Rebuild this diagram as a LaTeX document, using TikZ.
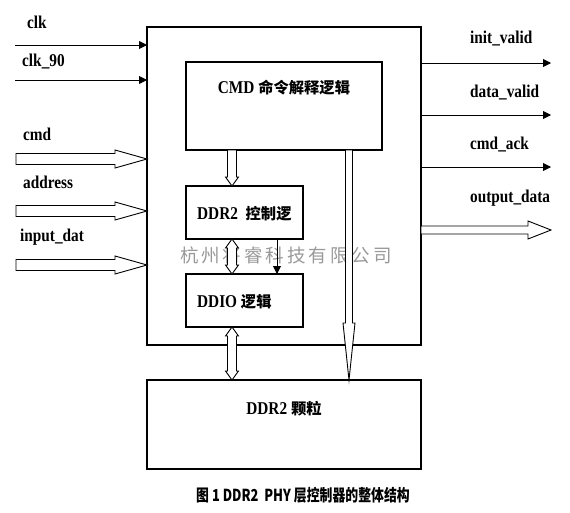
\documentclass[tikz,border=0pt]{standalone}
\usepackage{fontspec}
\setmainfont{Liberation Serif}[FakeStretch=0.85]
\newfontfamily\cjk{Noto Sans CJK SC}
\newfontfamily\capfont{Noto Sans CJK SC}[FakeStretch=0.78]
\usetikzlibrary{arrows.meta,calc}
\newcommand\hollowR[5]{\draw[hol] let \p1=#1, \p2=#2 in
  (\x1,\y1+#3) -- (\x2-#5,\y1+#3) -- (\x2-#5,\y1+#4) -- (\x2,\y1) --
  (\x2-#5,\y1-#4) -- (\x2-#5,\y1-#3) -- (\x1,\y1-#3) -- cycle;}
\newcommand\hollowD[5]{\draw[hol] let \p1=#1, \p2=#2 in
  (\x1-#3,\y1) -- (\x1-#3,\y2+#5) -- (\x1-#4,\y2+#5) -- (\x1,\y2) --
  (\x1+#4,\y2+#5) -- (\x1+#3,\y2+#5) -- (\x1+#3,\y1) -- cycle;}
\newcommand\hollowUD[5]{\draw[hol] let \p1=#1, \p2=#2 in
  (\x1,\y1) -- (\x1+#4,\y1-#5) -- (\x1+#3,\y1-#5) -- (\x1+#3,\y2+#5) --
  (\x1+#4,\y2+#5) -- (\x1,\y2) -- (\x1-#4,\y2+#5) -- (\x1-#3,\y2+#5) --
  (\x1-#3,\y1-#5) -- (\x1-#4,\y1-#5) -- cycle;}
\begin{document}
\begin{tikzpicture}[x=1pt,y=-1pt,
  box/.style={draw,line width=1.3pt,rectangle,inner sep=0pt,outer sep=0pt},
  lbl/.style={font=\fontsize{18}{20}\selectfont\bfseries,anchor=base west,inner sep=0pt},
  btxt/.style={font=\fontsize{18}{20}\selectfont\bfseries,inner sep=0pt},
  arr/.style={line width=0.9pt,-{Triangle[length=8pt,width=8pt]}},
  hol/.style={draw,fill=white,line width=0.9pt,line join=miter}]
\useasboundingbox (0,0) rectangle (570,512);
% boxes
\node[box,minimum width=274pt,minimum height=318pt] (main) at (284,186) {};
\node[box,minimum width=196pt,minimum height=88pt] (cmd) at (284,106) {};
\node[box,minimum width=117pt,minimum height=53pt] (ctrl) at (244.5,212.5) {};
\node[box,minimum width=117pt,minimum height=53pt] (ddio) at (244.5,300.5) {};
\node[box,minimum width=274pt,minimum height=89pt] (chip) at (284,424.5) {};
% box texts
\node[btxt] (cmdt) at (284,88) {CMD {\cjk\fontsize{15.3}{18}\selectfont\bfseries 命令解释逻辑}};
\node[btxt,anchor=west] (ctrlt) at (197,214) {DDR2\ \ {\cjk\fontsize{15.3}{18}\selectfont\bfseries 控制逻}};
\node[btxt,anchor=west] (ddiot) at (197,302) {DDIO {\cjk\fontsize{15.3}{18}\selectfont\bfseries 逻辑}};
\node[btxt] (chipt) at (284,409) {DDR2 {\cjk\fontsize{15.3}{18}\selectfont\bfseries 颗粒}};
% watermark
\node[inner sep=0pt,text=black!40,font=\cjk\fontsize{18.5}{20}\selectfont] (wm) at (286,255)
  {杭\hspace{3pt}州\hspace{3pt}将\hspace{3pt}睿\hspace{3pt}科\hspace{3pt}技\hspace{3pt}有\hspace{3pt}限\hspace{3pt}公\hspace{3pt}司};
% left labels
\node[lbl] (lclk) at (27,28) {clk};
\node[lbl] (lclk90) at (22,66) {clk\_90};
\node[lbl] (lcmd) at (23,140) {cmd};
\node[lbl] (laddr) at (23,188) {address};
\node[lbl] (lin) at (20,241) {input\_dat};
% right labels
\node[lbl] (liv) at (470,43) {init\_valid};
\node[lbl] (ldv) at (470,97) {data\_valid};
\node[lbl] (lca) at (470,149) {cmd\_ack};
\node[lbl] (lod) at (470,202) {output\_data};
% input coordinates
\coordinate (iclk) at (15,45);
\coordinate (iclk90) at (15,80);
\coordinate (icmd) at (16,159);
\coordinate (iaddr) at (16,211);
\coordinate (iin) at (16,265);
\draw[arr] (iclk) -- (iclk -| main.west);
\draw[arr] (iclk90) -- (iclk90 -| main.west);
\hollowR{(icmd)}{(icmd -| main.west)}{5.5}{9}{32}
\hollowR{(iaddr)}{(iaddr -| main.west)}{5.5}{9}{32}
\hollowR{(iin)}{(iin -| main.west)}{5.5}{9}{32}
% outputs
\coordinate (oiv) at (551,63);
\coordinate (odv) at (551,115);
\coordinate (oca) at (551,167);
\coordinate (ood) at (551,230);
\draw[arr] (oiv -| main.east) -- (oiv);
\draw[arr] (odv -| main.east) -- (odv);
\draw[arr] (oca -| main.east) -- (oca);
\hollowR{(ood -| main.east)}{(ood)}{4}{9}{23}
% internal arrows
\coordinate (xa) at (232,0);
\coordinate (xb) at (277,0);
\coordinate (xc) at (349,0);
\hollowD{(cmd.south -| xa)}{(ctrl.north -| xa)}{4.5}{6.5}{9}
\hollowUD{(ctrl.south -| xa)}{(ddio.north -| xa)}{4.5}{6.5}{9}
\hollowUD{(ddio.south -| xa)}{(chip.north -| xa)}{4.5}{6.5}{9}
\hollowD{(cmd.south -| xc)}{(chip.north -| xc)}{3.5}{6}{57}
\draw[arr] (ctrl.south -| xb) -- (ddio.north -| xb);
% caption
\node[inner sep=0pt,anchor=base,font=\capfont\fontsize{16.5}{18}\selectfont\bfseries] (cap) at (303,501)
  {图 1 DDR2\ \ PHY 层控制器的整体结构};
\end{tikzpicture}
\end{document}
